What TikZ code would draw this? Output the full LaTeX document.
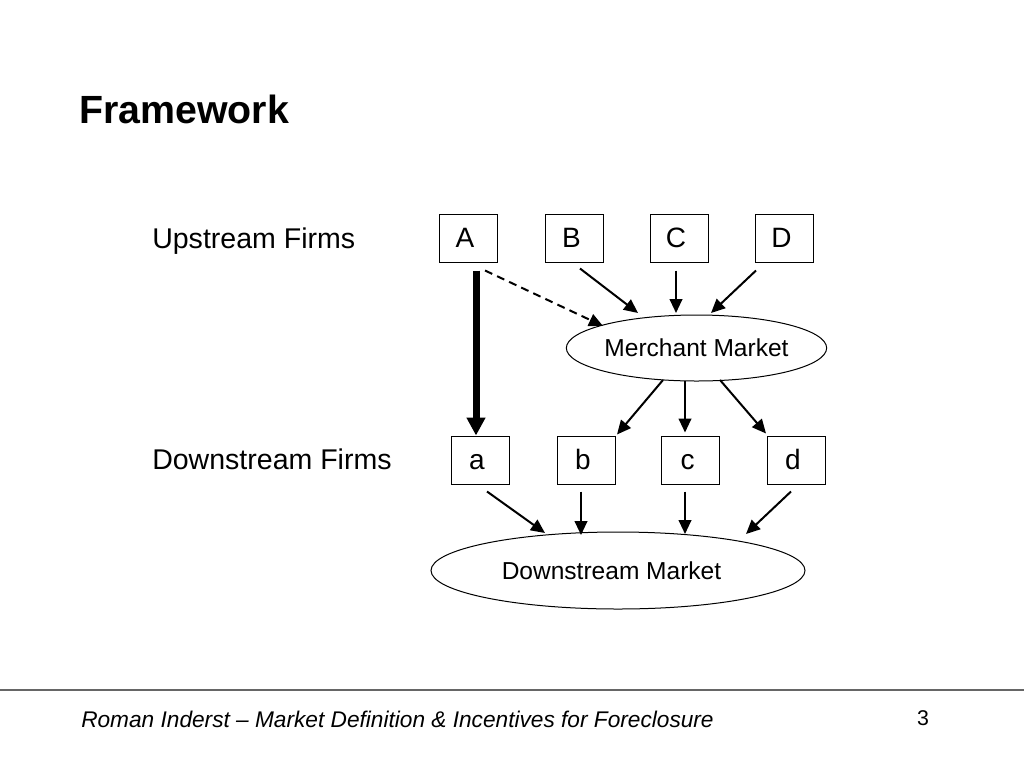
\documentclass[tikz,border=0pt]{standalone}
\usepackage{fontspec}
\setmainfont{Liberation Sans}
\usetikzlibrary{arrows.meta,shapes.geometric,calc}
\tikzset{
  firm/.style={draw, line width=0.75pt, minimum width=43.5pt, minimum height=36pt, inner sep=0pt, text height=14.5pt, text depth=0.5pt, font=\fontsize{21}{25}\selectfont, execute at begin node={\kern-4.5pt}},
  market/.style={draw, ellipse, line width=0.75pt, inner sep=0pt, font=\fontsize{18.4}{22}\selectfont},
  arr/.style={line width=1.5pt, -{Triangle[length=10.5pt, width=9.5pt]}},
  thickarr/.style={line width=5.25pt, -{Triangle[length=13.5pt, width=13.5pt]}},
  dasharr/.style={arr, dash pattern=on 6pt off 4pt},
  lbl/.style={anchor=base west, inner sep=0pt, font=\fontsize{21.4}{25}\selectfont}
}
\begin{document}
\begin{tikzpicture}[x=0.75pt,y=-0.75pt]
\useasboundingbox (0,0) rectangle (1024,768);
% title
\node[anchor=base west, inner sep=0pt, font=\fontsize{29.5}{34}\selectfont\bfseries] (title) at (79,123) {Framework};
% row labels
\node[lbl] (up) at (152,248) {Upstream Firms};
\node[lbl] (down) at (152,469) {Downstream Firms};
% upstream firms
\node[firm] (A) at (468,238) {A};
\node[firm] (B) at (574.5,238) {B};
\node[firm] (C) at (679,238) {C};
\node[firm] (D) at (784.5,238) {D};
% downstream firms
\node[firm] (a) at (480,460) {a};
\node[firm] (b) at (586,460) {b};
\node[firm] (c) at (690.5,460) {c};
\node[firm] (d) at (796,460) {d};
% markets
\node[market, minimum width=192pt, minimum height=49.5pt] (mm) at (696.5,348) {Merchant Market};
\node[market, minimum width=280.5pt, minimum height=57.75pt] (dm) at (618,570.5) {\kern-9.75pt Downstream Market};
% arrows
\draw[thickarr] ($(A.south)+(8,8)$) -- ($(a.north)+(-4,0)$);
\draw[dasharr] ($(A.south)+(17,8)$) -- ($(mm.center)+(-93.5,-22)$);
\draw[arr] ($(B.south)+(5.5,6)$) -- ($(mm.center)+(-58.5,-35)$);
\draw[arr] ($(C.south)+(-3,8)$) -- ($(mm.center)+(-20.5,-35)$);
\draw[arr] ($(D.south)+(-28.5,8)$) -- ($(mm.center)+(14.5,-35)$);
\draw[arr] ($(mm.center)+(-33.5,32)$) -- ($(b.north)+(31,-1)$);
\draw[arr] ($(mm.center)+(-11.5,33)$) -- ($(c.north)+(-5.5,-3)$);
\draw[arr] ($(mm.center)+(23.5,32)$) -- ($(d.north)+(-30,-2)$);
\draw[arr] ($(a.south)+(7,7)$) -- ($(dm.center)+(-73,-37.5)$);
\draw[arr] ($(b.south)+(-5,7)$) -- ($(dm.center)+(-37,-35.5)$);
\draw[arr] ($(c.south)+(-5.5,7)$) -- ($(dm.center)+(67,-36.5)$);
\draw[arr] ($(d.south)+(-5,7)$) -- ($(dm.center)+(128,-36.5)$);
% footer
\coordinate (fl) at (0,690);
\coordinate (fr) at (1024,690);
\draw[line width=1.5pt, color=black!60] (fl) -- (fr);
\node[anchor=base west, inner sep=0pt, font=\fontsize{17}{20}\selectfont\itshape] (foot) at (81,727) {Roman Inderst -- Market Definition \& Incentives for Foreclosure};
\node[anchor=base, inner sep=0pt, font=\fontsize{16}{20}\selectfont] (page) at (923,725) {3};
\end{tikzpicture}
\end{document}
